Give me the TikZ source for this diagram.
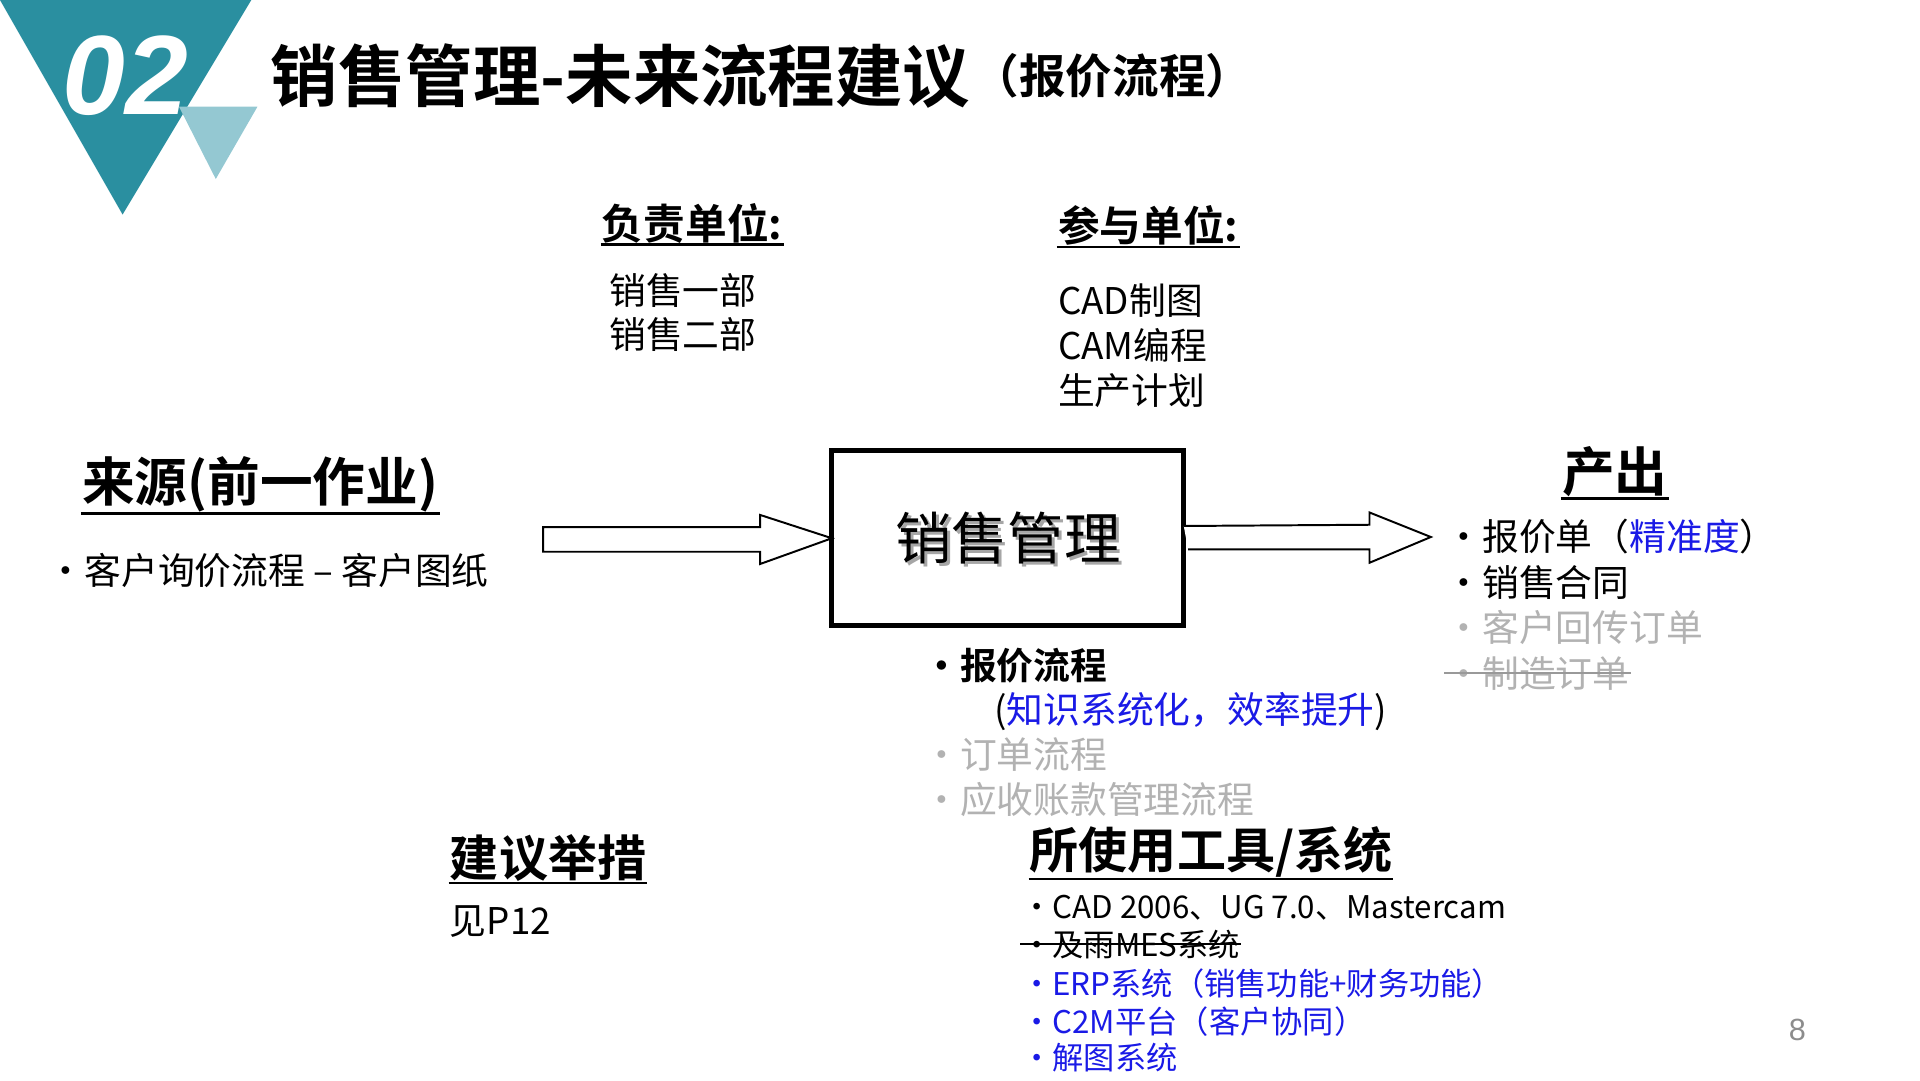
\documentclass[tikz,border=0pt]{standalone}
\usepackage{fontspec}
\setmainfont{Noto Sans CJK SC}[BoldFont=Noto Sans CJK SC Bold]
\newfontfamily\arialf{Liberation Sans}
\begin{document}
\begin{tikzpicture}[x=1pt,y=-1pt,
  every node/.style={inner sep=1pt,outer sep=0pt},
  txt/.style={anchor=west,font=\fontsize{30}{32}\selectfont},
  head/.style={anchor=west,font=\fontsize{40}{42}\selectfont\bfseries},
  grey/.style={text=black!30},
  ul/.style={line width=2pt},
  fatarrow/.style={draw=black,line width=1.6pt,fill=white}]
\definecolor{teal1}{HTML}{2A8FA0}
\definecolor{teal2}{HTML}{94C8D2}
\definecolor{bl}{HTML}{1A1AE6}
\useasboundingbox (0,0) rectangle (1566,881);
\fill[teal1] (0,0) -- (205,0) -- (100,175) -- cycle;
\fill[teal2] (146,87) -- (210,87) -- (176,146) -- cycle;
\node[text=white,font=\arialf\fontsize{92}{92}\selectfont\bfseries\itshape] (num) at (102,62) {02};
\node[anchor=west,font=\fontsize{55}{57}\selectfont\bfseries] (title) at (220,62) {销售管理-未来流程建议};
\node[anchor=west,font=\fontsize{38}{40}\selectfont\bfseries] (sub) at (title.east) {（报价流程）};

\node[head,font=\fontsize{34}{36}\selectfont\bfseries] (fz) at (490,182) {负责单位:};
\draw[ul] (fz.south west) -- (fz.south east);
\node[txt] (fz1) at (496,237) {销售一部};
\node[txt] (fz2) at (496,273) {销售二部};

\node[head,font=\fontsize{34}{36}\selectfont\bfseries] (cy) at (862,184) {参与单位:};
\draw[ul] (cy.south west) -- (cy.south east);
\node[txt] (cy1) at (862,245) {CAD制图};
\node[txt] (cy2) at (862,282) {CAM编程};
\node[txt] (cy3) at (862,319) {生产计划};

\node[head,font=\fontsize{43}{45}\selectfont\bfseries] (ly) at (66,395) {来源(前一作业)};
\draw[ul] (ly.south west) -- (ly.south east);
\node[txt] (ly1) at (38,465) {•客户询价流程 – 客户图纸};

\node[draw,line width=4pt,minimum width=287pt,minimum height=143pt] (box) at (822,439) {};
\node[text=black!35,font=\fontsize{46}{48}\selectfont] at (824.5,441.5) {销售管理};
\node[font=\fontsize{46}{48}\selectfont] (boxt) at (822,439) {销售管理};

\coordinate (la) at (443,440);
\draw[fatarrow] (la) ++(0,-10) -- ++(177,0) -- ++(0,-10) -- (box.west) -- (620,460) -- ++(0,-10) -- ++(-177,0) -- cycle;
\coordinate (ra) at (1167,438);
\draw[fatarrow] (box.east) ++(0,-10) -- (1117,428) -- (1117,418) -- (ra) -- (1117,459) -- (1117,448) -- (969,448);

\node[font=\fontsize{43}{45}\selectfont\bfseries] (cc) at (1317,385) {产出};
\draw[ul] (cc.south west) -- (cc.south east);
\node[txt] (o1) at (1178,438) {•报价单（\textcolor{bl}{精准度}）};
\node[txt] (o2) at (1178,475) {•销售合同};
\node[txt,grey] (o3) at (1178,512) {•客户回传订单};
\node[txt,grey] (o4) at (1178,549) {•制造订单};
\draw[black!40,line width=1.5pt] (o4.west) -- (o4.east);

\node[txt,font=\fontsize{30}{32}\selectfont\bfseries] (p1) at (752,543) {•报价流程};
\node[txt] (p2) at (810,580) {(\textcolor{bl}{知识系统化，效率提升})};
\node[txt,grey] (p3) at (752,615) {•订单流程};
\node[txt,grey] (p4) at (752,652) {•应收账款管理流程};

\node[head] (jy) at (366,700) {建议举措};
\draw[ul] (jy.south west) -- (jy.south east);
\node[txt] (jy1) at (366,752) {见P12};

\node[head] (gj) at (839,695) {所使用工具/系统};
\draw[ul] (gj.south west) -- (gj.south east);
\begin{scope}[every node/.append style={txt,font=\fontsize{25.5}{27}\selectfont}]
\node (t1) at (832,740) {•CAD 2006、UG 7.0、Mastercam};
\node (t2) at (832,770) {•及雨MES系统};
\node[text=bl] (t3) at (832,802) {•ERP系统（销售功能+财务功能）};
\node[text=bl] (t4) at (832,833) {•C2M平台（客户协同）};
\node[text=bl] (t5) at (832,863) {•解图系统};
\end{scope}
\draw[line width=1.3pt] (t2.west) -- (t2.east);
\node[text=black!45,font=\arialf\fontsize{25}{27}\selectfont] (pg) at (1466,840) {8};
\end{tikzpicture}
\end{document}
